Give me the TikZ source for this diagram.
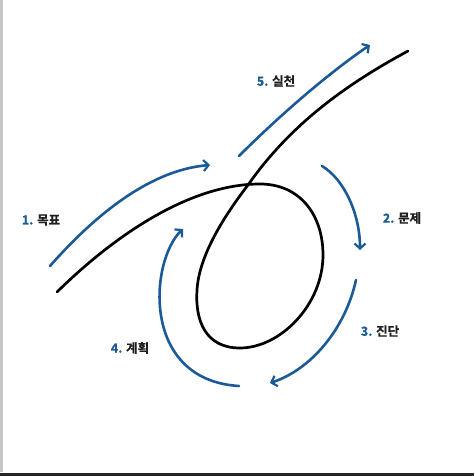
\documentclass[tikz,border=0pt]{standalone}
\usepackage{fontspec}
\setmainfont{Noto Sans CJK KR}[BoldFont={Noto Sans CJK KR Bold}, BoldFeatures={FakeBold=0.8}]
\usetikzlibrary{arrows.meta}
\definecolor{stepblue}{HTML}{1A5A96}
\begin{document}
\begin{tikzpicture}[x=1pt, y=-1pt,
    steparrow/.style={stepblue, line width=2.6pt, line cap=round,
        -{Straight Barb[length=5pt, width=11pt, line width=2.2pt]}},
    steplabel/.style={font=\fontsize{12.5}{14}\selectfont\bfseries, text=black!88, inner sep=0pt}]
    % Page, scan edges
    \useasboundingbox (0,0) rectangle (474,476);
    \fill[white] (0,0) rectangle (474,476);
    \fill[black!22] (0,0) rectangle (2.5,472);
    \fill[black!85] (0,472.5) rectangle (474,476);

    % Draw the black path with its loop
    \draw[line width=2.7pt, line cap=round]
        (57,292) .. controls (115,235) and (190,184) .. (260,184)
        .. controls (300,184) and (323,215) .. (323,255)
        .. controls (323,305) and (280,348) .. (240,348)
        .. controls (205,348) and (195,320) .. (197,290)
        .. controls (199,255) and (225,215) .. (248,185)
        .. controls (290,125) and (345,85) .. (408,51);

    % Draw the blue step arrows around it
    \draw[steparrow] (50,266) .. controls (95,215) and (150,170) .. (210,165);
    \draw[steparrow] (322,166) .. controls (345,180) and (360,215) .. (360,250);
    \draw[steparrow] (356,280) .. controls (345,330) and (310,370) .. (270,383);
    \draw[steparrow] (239,386) .. controls (140,380) and (150,260) .. (183,229);
    \draw[steparrow] (239,156) .. controls (280,115) and (330,72) .. (370,45);

    % Label the steps
    \node[steplabel] (goal) at (41,220) {\textcolor{stepblue}{1.} 목표};
    \node[steplabel] (problem) at (402,218) {\textcolor{stepblue}{2.} 문제};
    \node[steplabel] (diagnosis) at (380,331) {\textcolor{stepblue}{3.} 진단};
    \node[steplabel] (plan) at (130,348) {\textcolor{stepblue}{4.} 계획};
    \node[steplabel] (action) at (276,81) {\textcolor{stepblue}{5.} 실천};
\end{tikzpicture}
\end{document}
